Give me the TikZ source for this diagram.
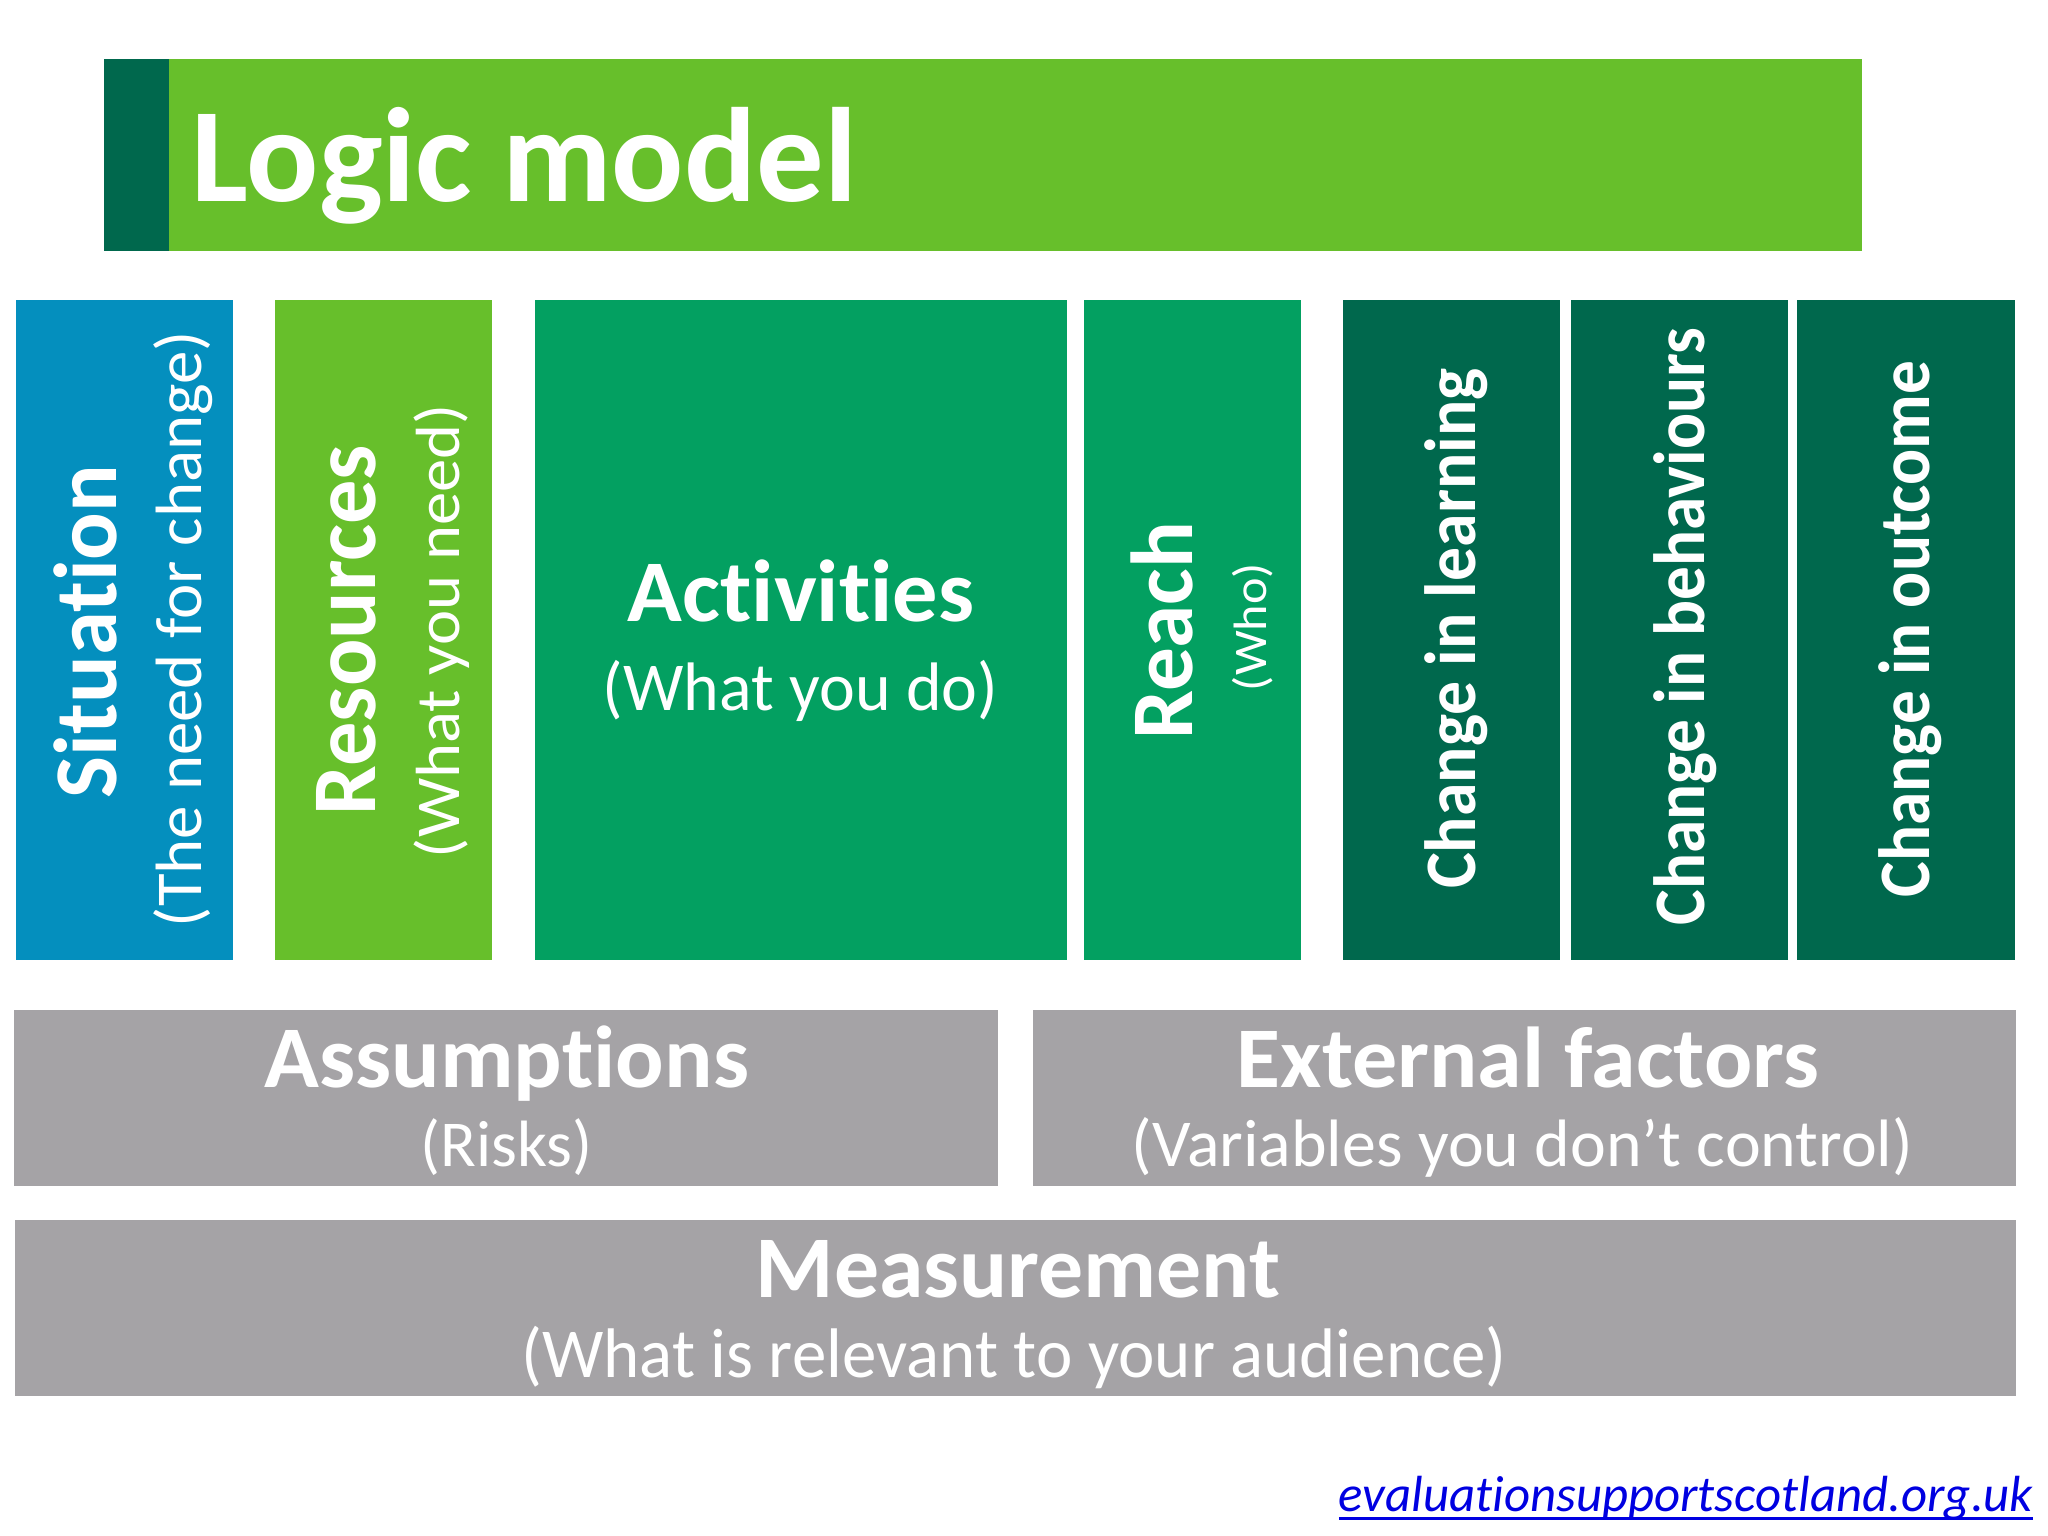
\documentclass[tikz,border=0pt]{standalone}
\usepackage{fontspec}
\setmainfont{Carlito}[Ligatures={NoCommon,NoContextual}]
\usepackage{graphicx}
\definecolor{dkgreen}{RGB}{0,104,77}
\definecolor{ltgreen}{RGB}{103,191,43}
\definecolor{cblue}{RGB}{4,143,190}
\definecolor{mdgreen}{RGB}{3,160,97}
\definecolor{cgray}{RGB}{165,163,166}
\definecolor{urlblue}{RGB}{0,0,225}
% #1 length, #2 cap height, #3 text
\newcommand\fitc[3]{\resizebox{#1}{#2}{\raisebox{0pt}[\fontcharht\font`H][0pt]{#3}}}
\tikzset{
  panel/.style={inner sep=0pt, outer sep=0pt, draw=none},
  lbl/.style={inner sep=0pt, outer sep=0pt, text=white, anchor=base, font=\bfseries},
  sublbl/.style={inner sep=0pt, outer sep=0pt, text=white, anchor=base, font=\normalfont},
  vlbl/.style={lbl, rotate=90},
  vsub/.style={sublbl, rotate=90},
}
\begin{document}
\begin{tikzpicture}[x=0.01cm,y=-0.01cm]
\useasboundingbox (0,0) rectangle (2048,1536);
\fill[white] (0,0) rectangle (2048,1536);
% title bar
\node[panel, fill=dkgreen, minimum width=0.65cm, minimum height=1.92cm] (tdark) at (137,155) {};
\node[panel, fill=ltgreen, minimum width=16.915cm, minimum height=1.92cm] (tbar) at (1015.25,155) {};
\node[lbl] (title) at (524.5,201) {\fitc{6.65cm}{0.87cm}{Logic model}};
% columns
\node[panel, fill=cblue, minimum width=2.168cm, minimum height=6.6cm] (sit) at (124.1,630) {};
\node[panel, fill=ltgreen, minimum width=2.166cm, minimum height=6.6cm] (res) at (383.6,630) {};
\node[panel, fill=mdgreen, minimum width=5.318cm, minimum height=6.6cm] (act) at (801.4,630) {};
\node[panel, fill=mdgreen, minimum width=2.173cm, minimum height=6.6cm] (reach) at (1192.65,630) {};
\node[panel, fill=dkgreen, minimum width=2.17cm, minimum height=6.6cm] (learn) at (1451.5,630) {};
\node[panel, fill=dkgreen, minimum width=2.17cm, minimum height=6.6cm] (behav) at (1679.5,630) {};
\node[panel, fill=dkgreen, minimum width=2.17cm, minimum height=6.6cm] (outc) at (1906,630) {};
% column labels
\node[vlbl] (sitT) at (116,631.5) {\fitc{3.33cm}{0.58cm}{Situation}};
\node[vsub] (sitS) at (201,629) {\fitc{5.96cm}{0.42cm}{(The need for change)}};
\node[vlbl] (resT) at (375,630) {\fitc{3.70cm}{0.59cm}{Resources}};
\node[vsub] (resS) at (459,631) {\fitc{4.54cm}{0.40cm}{(What you need)}};
\node[lbl] (actT) at (801,621) {\fitc{3.46cm}{0.57cm}{Activities}};
\node[sublbl] (actS) at (800.5,710) {\fitc{3.95cm}{0.44cm}{(What you do)}};
\node[vlbl] (reachT) at (1192,630.8) {\fitc{2.18cm}{0.57cm}{Reach}};
\node[vsub] (reachS) at (1266,627) {\fitc{1.28cm}{0.30cm}{(Who)}};
\node[vlbl] (learnT) at (1475,628.7) {\fitc{5.20cm}{0.47cm}{Change in learning}};
\node[vlbl] (behavT) at (1704,626.5) {\fitc{5.97cm}{0.47cm}{Change in behaviours}};
\node[vlbl] (outcT) at (1929,629) {\fitc{5.36cm}{0.47cm}{Change in outcome}};
% bottom boxes
\node[panel, fill=cgray, minimum width=9.835cm, minimum height=1.76cm] (assum) at (506.25,1098) {};
\node[panel, fill=cgray, minimum width=9.83cm, minimum height=1.76cm] (ext) at (1524.5,1098) {};
\node[panel, fill=cgray, minimum width=19.998cm, minimum height=1.76cm] (meas) at (1015.6,1308) {};
\node[lbl] (assumT) at (506.7,1087) {\fitc{4.84cm}{0.57cm}{Assumptions}};
\node[sublbl] (assumS) at (506.4,1166) {\fitc{1.72cm}{0.42cm}{(Risks)}};
\node[lbl] (extT) at (1528,1087) {\fitc{5.82cm}{0.56cm}{External factors}};
\node[sublbl] (extS) at (1522.5,1166) {\fitc{7.81cm}{0.43cm}{(Variables you don’t control)}};
\node[lbl] (measT) at (1018,1297) {\fitc{5.24cm}{0.57cm}{Measurement}};
\node[sublbl] (measS) at (1014,1377) {\fitc{9.85cm}{0.45cm}{(What is relevant to your audience)}};
% url
\node[inner sep=0pt, outer sep=0pt, anchor=base, text=urlblue, font=\itshape] (url) at (1686,1511) {\resizebox{6.94cm}{!}{evaluationsupportscotland.org.uk}};
\draw[urlblue, line width=0.03cm] ([yshift=-0.075cm]url.base west) -- ([yshift=-0.075cm]url.base east);
\end{tikzpicture}
\end{document}
